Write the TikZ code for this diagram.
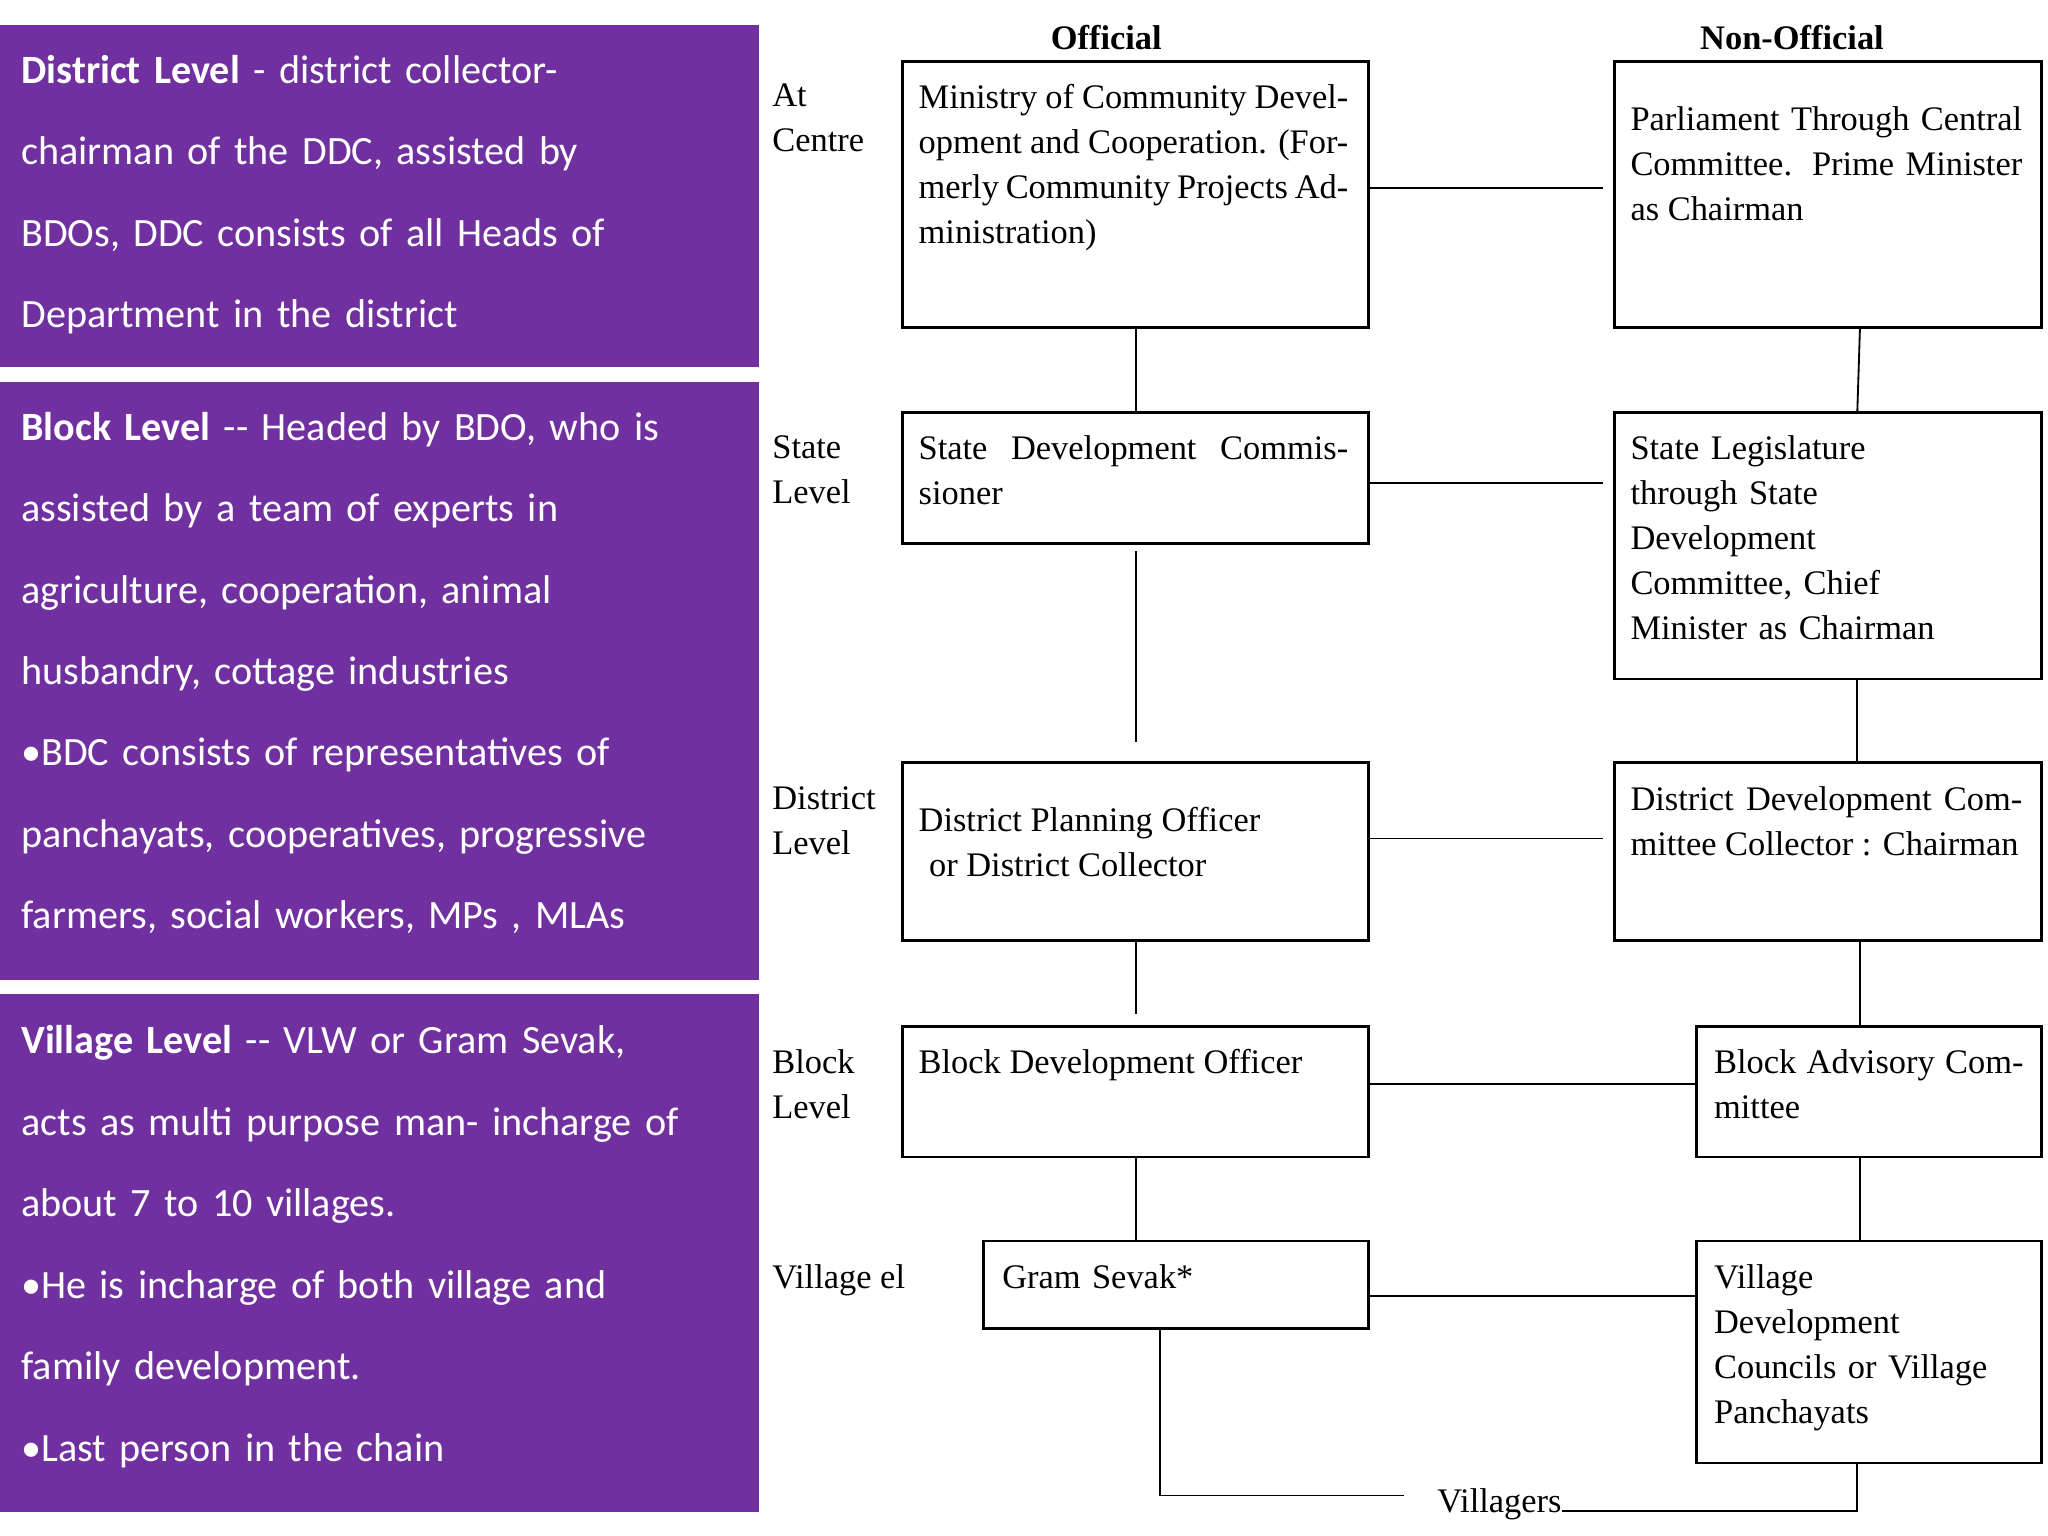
\documentclass[tikz,border=0pt]{standalone}
\usepackage{fontspec}
\setmainfont{Liberation Serif}
\newfontfamily\carlitofont{Carlito}
\definecolor{pur}{HTML}{7030A0}
\begin{document}
\begin{tikzpicture}[x=0.02cm,y=-0.02cm,
 panel/.style={fill=pur,draw=none,anchor=north west,inner sep=0},
 ptext/.style={anchor=north west,text=white,font=\carlitofont\fontsize{17.5}{35.5}\selectfont,text width=11.2cm,align=left,inner sep=0},
 box/.style={draw,line width=1.1pt,anchor=north west,inner sep=0},
 btext/.style={anchor=north west,font=\fontsize{15}{19.6}\selectfont,align=justify,inner sep=0},
 lab/.style={anchor=north west,font=\fontsize{15}{19.6}\selectfont,align=left,inner sep=0},
 hd/.style={font=\bfseries\fontsize{15}{18}\selectfont},
 ln/.style={line width=0.8pt}]
\useasboundingbox (0,0) rectangle (1568,1176);
% panels
\node[panel,minimum width=11.62cm,minimum height=5.24cm] (p1) at (0,19) {};
\node[panel,minimum width=11.62cm,minimum height=9.16cm] (p2) at (0,292) {};
\node[panel,minimum width=11.62cm,minimum height=7.92cm] (p3) at (0,761) {};
\node[ptext] (t1) at (16,42) {\textbf{District Level} - district collector-\\chairman of the DDC, assisted by\\BDOs, DDC consists of all Heads of\\Department in the district};
\node[ptext] (t2) at (16,315) {\textbf{Block Level} -- Headed by BDO, who is\\assisted by a team of experts in\\agriculture, cooperation, animal\\husbandry, cottage industries\\\textbullet BDC consists of representatives of\\panchayats, cooperatives, progressive\\farmers, social workers, MPs , MLAs};
\node[ptext] (t3) at (16,785) {\textbf{Village Level} -- VLW or Gram Sevak,\\acts as multi purpose man- incharge of\\about 7 to 10 villages.\\\textbullet He is incharge of both village and\\family development.\\\textbullet Last person in the chain};
% headers
\node[hd] (h1) at (847,29) {Official};
\node[hd] (h2) at (1372,29) {Non-Official};
% row labels
\node[lab] (l1) at (591,64) {At\\Centre};
\node[lab] (l2) at (591,333) {State\\Level};
\node[lab] (l3) at (591,602) {District\\Level};
\node[lab] (l4) at (591,803) {Block\\Level};
\node[lab] (l5) at (591,968) {Village el};
% boxes
\node[box,minimum width=7.14cm,minimum height=4.08cm] (b1) at (690,46) {};
\node[box,minimum width=6.54cm,minimum height=4.08cm] (n1) at (1235,46) {};
\node[box,minimum width=7.14cm,minimum height=2.0cm] (b2) at (690,315) {};
\node[box,minimum width=6.54cm,minimum height=4.08cm] (n2) at (1235,315) {};
\node[box,minimum width=7.14cm,minimum height=2.72cm] (b3) at (690,583) {};
\node[box,minimum width=6.54cm,minimum height=2.72cm] (n3) at (1235,583) {};
\node[box,minimum width=7.14cm,minimum height=2.0cm] (b4) at (690,785) {};
\node[box,minimum width=5.28cm,minimum height=2.0cm] (n4) at (1298,785) {};
\node[box,minimum width=5.9cm,minimum height=1.34cm] (b5) at (752,949) {};
\node[box,minimum width=5.28cm,minimum height=3.4cm] (n5) at (1298,949) {};
% box texts
\node[btext,text width=6.58cm] at (703,64) {Ministry of Community Development and Cooperation. (Formerly Community Projects Administration)};
\node[btext,text width=6.0cm] at (1248,81) {Parliament Through Central Committee. Prime Minister as Chairman};
\node[btext,text width=6.58cm] at (703,333) {State Development Commissioner};
\node[btext,text width=6.0cm,align=left] at (1248,333) {State Legislature\\through State\\Development\\Committee, Chief\\Minister as Chairman};
\node[btext,text width=6.58cm] at (703,618) {District Planning Officer\\\hspace*{0.16cm}or District Collector};
\node[btext,text width=6.0cm] at (1248,602) {District Development Committee Collector : Chairman};
\node[btext,text width=6.58cm] at (703,803) {Block Development Officer};
\node[btext,text width=4.74cm] at (1312,803) {Block Advisory Committee};
\node[btext,text width=5.0cm,align=left] at (767,968) {Gram Sevak*};
\node[btext,text width=4.74cm,align=left] at (1312,968) {Village\\Development\\Councils or Village\\Panchayats};
% connectors
\draw[ln] (b1.east |- 0,144) -- (1227,144);
\draw[ln] (b2.east |- 0,370) -- (1227,370);
\draw[ln] (b3.east |- 0,642) -- (1227,642);
\draw[ln] (b4.east |- 0,830) -- (n4.west |- 0,830);
\draw[ln] (b5.east |- 0,992) -- (n5.west |- 0,992);
\draw[ln] (b1.south -| 870,0) -- (b2.north -| 870,0);
\draw[ln] (870,422) -- (870,568);
\draw[ln] (b3.south -| 870,0) -- (870,776);
\draw[ln] (b4.south -| 870,0) -- (b5.north -| 870,0);
\draw[ln] (n1.south -| 1424,0) -- (n2.north -| 1422,0);
\draw[ln] (n2.south -| 1422,0) -- (n3.north -| 1422,0);
\draw[ln] (n3.south -| 1424,0) -- (n4.north -| 1424,0);
\draw[ln] (n4.south -| 1424,0) -- (n5.north -| 1424,0);
\node[lab,anchor=center] (vil) at (1148,1152) {Villagers};
\draw[ln] (b5.south -| 888,0) -- (888,1145) -- (1075,1145);
\draw[ln] (vil.east |- 0,1157) -- (1422,1157) -- (n5.south -| 1422,0);
\end{tikzpicture}
\end{document}
